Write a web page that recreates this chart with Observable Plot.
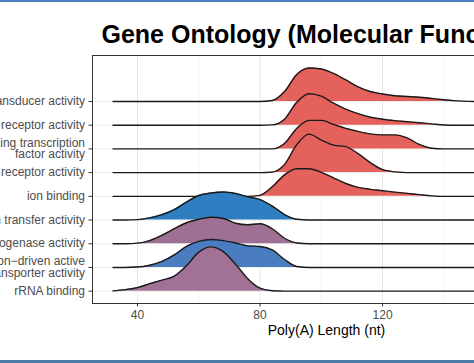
<!DOCTYPE html>
<html><head><meta charset="utf-8">
<script src="https://cdn.jsdelivr.net/npm/d3@7"></script>
<script src="https://cdn.jsdelivr.net/npm/@observablehq/plot@0.6"></script>
<style>
html,body{margin:0;padding:0;width:474px;height:363px;overflow:hidden;background:#fff;}
#wrap{position:relative;width:474px;height:363px;overflow:hidden;}
#chart{position:absolute;left:0;top:0;}
.bar{position:absolute;left:0;width:474px;z-index:2;}
</style></head><body>
<div id="wrap">
  <div id="chart"></div>
  <div class="bar" style="top:0;height:2px;background:#4f81bd"></div>
  <div class="bar" style="top:360px;height:3px;background:#4a7aa8"></div>
</div>
<script>
// Categories, bottom (0) to top (8)
const categories = [
  "rRNA binding",
  "proton\u2212driven active\ntransporter activity",
  "NADH dehydrogenase activity",
  "electron transfer activity",
  "ion binding",
  "signaling receptor activity",
  "DNA\u2212binding transcription\nfactor activity",
  "transmembrane receptor activity",
  "signal transducer activity"
];
const fills = ["#a27296", "#4a7cc0", "#9e7094", "#2f7ec1", "#e5625c", "#e5625c", "#e5625c", "#e5625c", "#e5625c"];

// Poly(A) length grid (nt)
const lengths = [32,36,40,44,48,52,56,60,64,68,72,76,80,84,88,92,96,100,104,108,112,116,120,124,128,132,136,140,144,148,152,175];

// Density (x1000, per nt) read from the ridges
const rRNA          = [0.3,1.6,3.6,7.5,11,15,25.5,39,44.3,39.5,27,12.5,3, 0.4,0,0,0,0,0,0,0,0,0,0,0,0,0,0,0,0,0,0];
const transporter   = [0,0,0.4,2.2,6,12.5,21,26,28,26.8,24.5,21.6,21, 17.5,8,1,0,0,0,0,0,0,0,0,0,0,0,0,0,0,0,0];
const dehydrogenase = [0,0,0.6,3.2,8.5,15,21,24.5,26.5,25.3,20.5,19,20, 15,5.5,0.8,0,0,0,0,0,0,0,0,0,0,0,0,0,0,0,0];
const electron      = [0,0,0.4,2.2,5.5,10.5,18,24.5,27,28,26.5,23.2,20.5, 14,5.5,0.8,0,0,0,0,0,0,0,0,0,0,0,0,0,0,0,0];
const ionBinding    = [0,0,0,0,0,0,0,0,0,0,0,0,1, 9.5,21.5,27.5,27.5,24,18.5,12.8,9,7,5.6,4.2,3,1.7,0.5,0,0,0,0,0];
const receptorLow   = [0,0,0,0,0,0,0,0,0,0,0,0,0, 0.5,8,28,38.5,32.5,27.5,26,19,10,3,0.8,0,0,0,0,0,0,0,0];
const transcription = [0,0,0,0,0,0,0,0,0,0,0,0,0, 0,5.5,20.5,28.5,28.5,24.5,20.5,17.5,15,14,14,11,4.5,0.7,0,0,0,0,0];
const receptorUp    = [0,0,0,0,0,0,0,0,0,0,0,0,0, 0.3,6,23,31.5,29,22,16,11.5,8,6,4.6,3.5,2.5,1.3,0.2,0,0,0,0];
const transducer    = [0,0,0,0,0,0,0,0,0,0,0,0,0, 1,10,27,33.5,32.5,28,21.5,14.7,10,7.5,5.7,5,4.3,3,1.7,0.6,0.1,0,0];
const series = [rRNA, transporter, dehydrogenase, electron, ionBinding, receptorLow, transcription, receptorUp, transducer];

const xTicks = [40, 80, 120];
const xMinor = [60, 100, 140];
const densityUnit = 0.001;
const ridgeScale = 42.2;
const title = "Gene Ontology (Molecular Function)";
const xLabel = "Poly(A) Length (nt)";

const rowIdx = d3.range(categories.length);
const marks = [
  Plot.gridX(xMinor, {stroke: "#f3f3f3", strokeOpacity: 1}),
  Plot.gridX(xTicks, {stroke: "#e6e6e6", strokeOpacity: 1}),
  Plot.gridY(rowIdx, {stroke: "#ebebeb", strokeOpacity: 1})
];
for (let i = categories.length - 1; i >= 0; i--) {
  const data = lengths.map((x, k) => ({x, y1: i, y2: i + series[i][k] * densityUnit * ridgeScale}));
  marks.push(Plot.areaY(data, {x: "x", y1: "y1", y2: "y2", fill: fills[i], curve: "monotone-x"}));
  marks.push(Plot.line(data, {x: "x", y: "y2", stroke: "#1a1a1a", strokeWidth: 1.4, curve: "monotone-x"}));
}
marks.push(Plot.frame({stroke: "#333", strokeWidth: 1}));
marks.push(Plot.axisY(rowIdx, {tickSize: 3.5, tickPadding: 4, tickFormat: i => categories[i], fontSize: 12, fill: "#4d4d4d", stroke: "#333", label: null, lineHeight: 0.92}));
marks.push(Plot.axisX(xTicks, {tickSize: 3.5, tickPadding: 3, fontSize: 12, fill: "#4d4d4d", stroke: "#333", label: null}));
marks.push(Plot.text([title], {frameAnchor: "top-left", textAnchor: "start", lineAnchor: "bottom", dx: 9, dy: -13, fontSize: 25, fontWeight: "bold", fill: "#000"}));
marks.push(Plot.text([xLabel], {frameAnchor: "bottom", lineAnchor: "bottom", dy: 31, fontSize: 14, fill: "#000"}));

const chart = Plot.plot({
  width: 590,
  height: 363,
  marginLeft: 92,
  marginRight: 30,
  marginTop: 55,
  marginBottom: 60,
  x: {domain: [25.3, 178.1]},
  y: {domain: [-0.52, 9.94]},
  style: {maxWidth: "none", fontFamily: "'Liberation Sans', Arial, sans-serif", background: "#fff"},
  marks
});
document.getElementById("chart").appendChild(chart);
</script>
</body></html>
